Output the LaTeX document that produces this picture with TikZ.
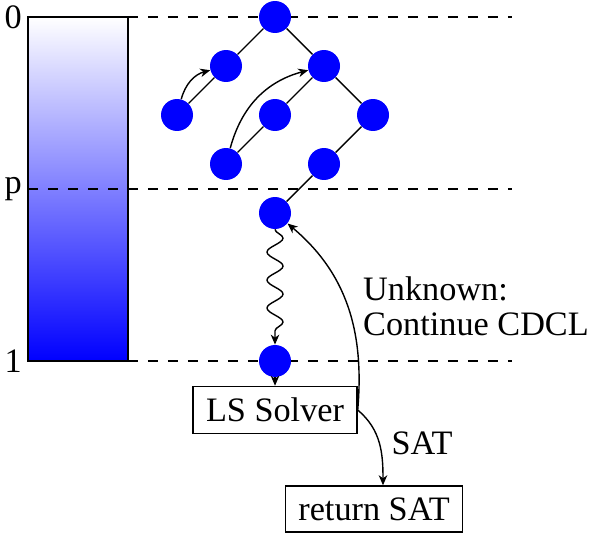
\documentclass[tikz,border=0pt]{standalone}
\usepackage{fontspec}
\setmainfont{Liberation Serif}
\usetikzlibrary{decorations.pathmorphing,arrows.meta}
\tikzset{
  every node/.style={font=\fontsize{19.5}{19.4}\selectfont},
  dot/.style={circle,fill=blue,minimum size=0.64cm,inner sep=0pt},
  box/.style={draw,rectangle,line width=0.8pt,inner xsep=0.26cm,inner ysep=0.23cm},
  level/.style={dash pattern=on 0.2cm off 0.2cm,line width=0.8pt},
  arr/.style={-{Stealth[length=0.2cm,width=0.17cm,inset=0.06cm]},line width=0.8pt},
  edge/.style={line width=0.8pt}
}
\begin{document}
\begin{tikzpicture}[x=0.02cm,y=-0.02cm]
\useasboundingbox (0,0) rectangle (591,537);
% bar
\shade[top color=white,bottom color=blue] (28,17) rectangle (128,361);
\draw[line width=0.8pt] (28,17) rectangle (128,361);
% levels
\draw[level] (28,17) -- (512,17);
\draw[level] (28,189) -- (512,189);
\draw[level] (28,361) -- (512,361);
\node[anchor=east] (lab0) at (28,17) {0};
\node[anchor=east] (labp) at (28,189) {p};
\node[anchor=east] (lab1) at (28,361) {1};
% tree
\node[dot] (root) at (275,17) {};
\node[dot] (l1a) at (226,66) {};
\node[dot] (l1b) at (324,66) {};
\node[dot] (l2a) at (177,115) {};
\node[dot] (l2b) at (275,115) {};
\node[dot] (l2c) at (373,115) {};
\node[dot] (l3a) at (226,164) {};
\node[dot] (l3b) at (324,164) {};
\node[dot] (n9) at (275,213) {};
\node[dot] (bot) at (275,361) {};
\draw[edge] (root) -- (l1a);
\draw[edge] (root) -- (l1b);
\draw[edge] (l1a) -- (l2a);
\draw[edge] (l1b) -- (l2b);
\draw[edge] (l1b) -- (l2c);
\draw[edge] (l2b) -- (l3a);
\draw[edge] (l2c) -- (l3b);
\draw[edge] (l3b) -- (n9);
\draw[arr] (l2a) to[bend left=30] (l1a);
\draw[arr] (l3a) to[bend left=30] (l1b);
% boxes
\node[box] (ls) at (275,410) {LS Solver};
\node[box] (ret) at (374,509) {return SAT};
\draw[arr,decorate,decoration={snake,amplitude=0.16cm,segment length=0.56cm,post length=0.25cm}] (n9) -- (bot);
\draw[arr] (bot) -- (ls);
\draw[arr] (ls.east) to[out=85,in=-40] (n9);
\draw[arr] (ls.east) to[out=-40,in=90] ([xshift=0.18cm]ret.north);
\node[anchor=north west,align=left] (unk) at (357,271) {Unknown:\\Continue CDCL};
\node (sat) at (422,443) {SAT};
\end{tikzpicture}
\end{document}
